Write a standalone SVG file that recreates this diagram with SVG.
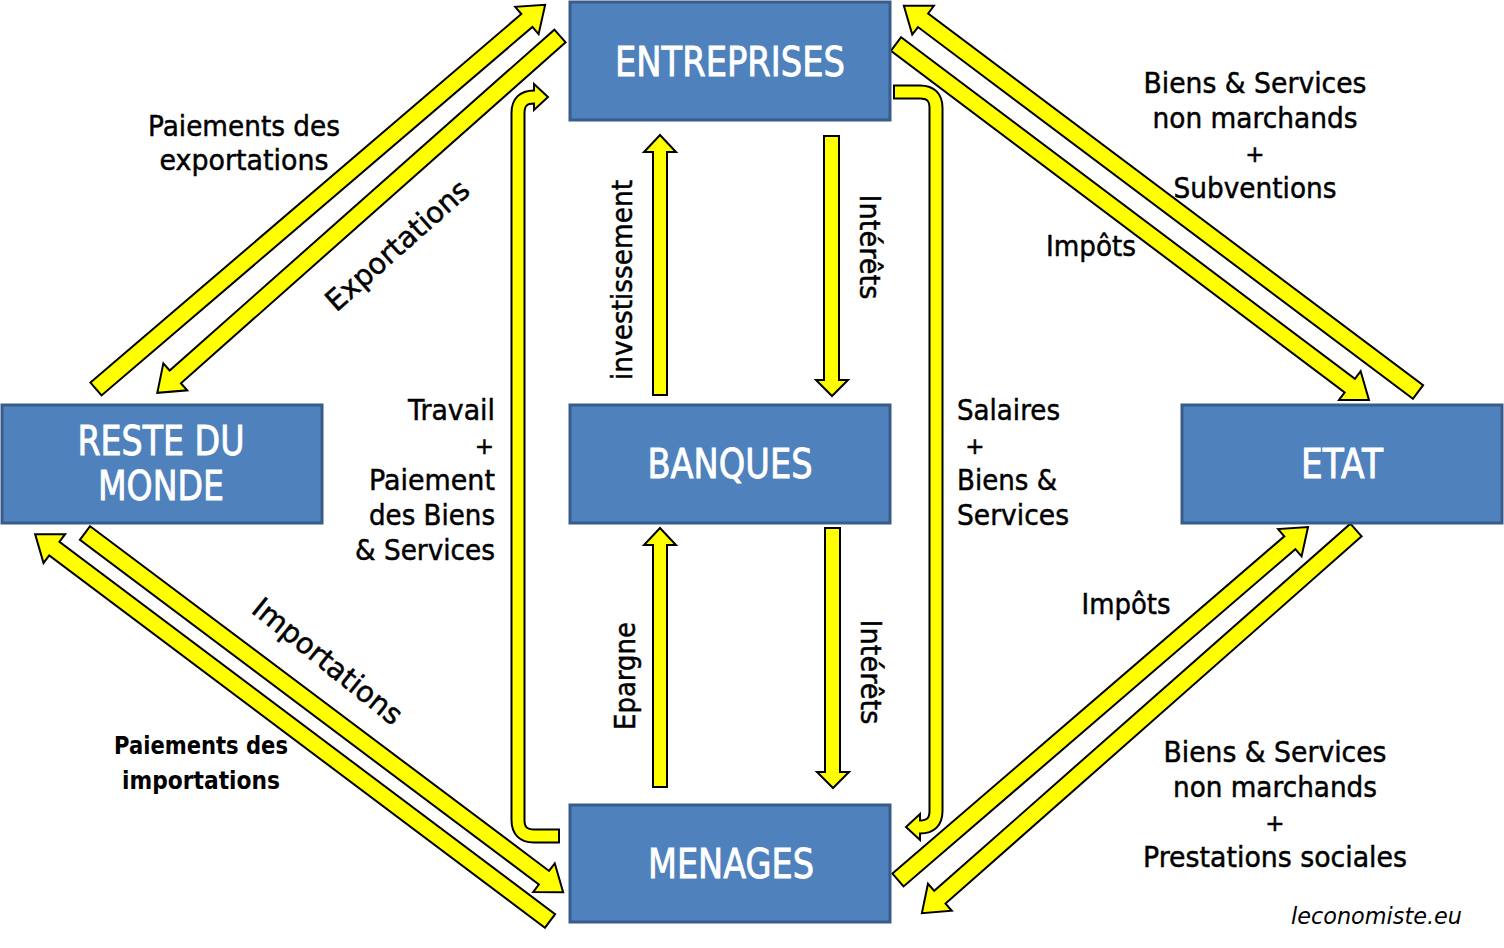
<svg xmlns="http://www.w3.org/2000/svg" width="1504" height="948" viewBox="0 0 1504 948">
<style>
.box{fill:#4F81BD;stroke:#385D8A;stroke-width:3}
.bt{font-family:"DejaVu Sans",sans-serif;font-size:40px;fill:#fff;stroke:#fff;stroke-width:0.9;text-anchor:middle}
.arr{fill:#FFFF00;stroke:#000;stroke-width:2;stroke-linejoin:miter}
.lb{font-family:"DejaVu Sans",sans-serif;font-size:29px;fill:#000;stroke:#000;stroke-width:0.5}
.pl{font-family:"DejaVu Sans",sans-serif;font-size:23px;fill:#000;stroke:#000;stroke-width:0.5}
.lbb{font-family:"DejaVu Sans",sans-serif;font-size:25px;font-weight:bold;fill:#000;text-anchor:middle}
.c{text-anchor:middle}
.r{text-anchor:end}
</style>
<rect width="1504" height="948" fill="#fff"/>
<g id="connectors">
  <polygon class="arr" transform="translate(96,389) rotate(-40.54)" points="0,-8.5 567,-8.5 567,-18 591,0 567,18 567,8.5 0,8.5"/>
  <polygon class="arr" transform="translate(560,36) rotate(138.46)" points="0,-8.5 514,-8.5 514,-18 538,0 514,18 514,8.5 0,8.5"/>
  <polygon class="arr" transform="translate(896,44) rotate(36.97)" points="0,-8.5 568,-8.5 568,-18 592,0 568,18 568,8.5 0,8.5"/>
  <polygon class="arr" transform="translate(1418,392) rotate(-143.09)" points="0,-8.5 619,-8.5 619,-18 643,0 619,18 619,8.5 0,8.5"/>
  <polygon class="arr" transform="translate(898,880) rotate(-40.72)" points="0,-8.5 517,-8.5 517,-18 541,0 517,18 517,8.5 0,8.5"/>
  <polygon class="arr" transform="translate(1356,530) rotate(138.57)" points="0,-8.5 555,-8.5 555,-18 579,0 555,18 555,8.5 0,8.5"/>
  <polygon class="arr" transform="translate(85,533) rotate(36.91)" points="0,-8.5 574,-8.5 574,-18 598,0 574,18 574,8.5 0,8.5"/>
  <polygon class="arr" transform="translate(550,921) rotate(-143.08)" points="0,-8.5 620,-8.5 620,-18 644,0 620,18 620,8.5 0,8.5"/>
  <polygon class="arr" points="653,395 653,152 644,152 660,135 676,152 667,152 667,395"/>
  <polygon class="arr" points="824,136 824,380 816,380 832,396 848,380 839,380 839,136"/>
  <polygon class="arr" points="653,787 653,545 644,545 660,528 676,545 667,545 667,787"/>
  <polygon class="arr" points="825,528 825,772 817,772 833,788 849,772 840,772 840,528"/>
  <path d="M 560,836 H 534 Q 518,836 518,820 V 113 Q 518,97 534,97 H 537" fill="none" stroke="#000" stroke-width="15"/>
  <polygon class="arr" points="534,84 548,97 534,110"/>
  <path d="M 558,836 H 534 Q 518,836 518,820 V 113 Q 518,97 534,97 H 536" fill="none" stroke="#FFFF00" stroke-width="11"/>
  <path d="M 893,92 H 920 Q 936,92 936,108 V 811 Q 936,827 920,827 H 917" fill="none" stroke="#000" stroke-width="15"/>
  <polygon class="arr" points="920,814 906,827 920,840"/>
  <path d="M 895,92 H 920 Q 936,92 936,108 V 811 Q 936,827 920,827 H 918" fill="none" stroke="#FFFF00" stroke-width="11"/>
</g>
<g id="entreprises">
  <rect class="box" x="570" y="2" width="320" height="118"/>
  <text class="bt" x="730" y="76" textLength="230" lengthAdjust="spacingAndGlyphs">ENTREPRISES</text>
</g>
<g id="banques">
  <rect class="box" x="570" y="405" width="320" height="118"/>
  <text class="bt" x="730" y="478" textLength="165" lengthAdjust="spacingAndGlyphs">BANQUES</text>
</g>
<g id="menages">
  <rect class="box" x="570" y="805" width="320" height="117"/>
  <text class="bt" x="731" y="878" textLength="166" lengthAdjust="spacingAndGlyphs">MENAGES</text>
</g>
<g id="reste-du-monde">
  <rect class="box" x="2" y="405" width="320" height="118"/>
  <text class="bt" x="161" y="455" textLength="167" lengthAdjust="spacingAndGlyphs">RESTE DU</text>
  <text class="bt" x="161" y="500" textLength="126" lengthAdjust="spacingAndGlyphs">MONDE</text>
</g>
<g id="etat">
  <rect class="box" x="1182" y="405" width="320" height="118"/>
  <text class="bt" x="1342" y="478" textLength="82" lengthAdjust="spacingAndGlyphs">ETAT</text>
</g>
<g id="labels">
  <text class="lb c" x="244" y="136" textLength="192" lengthAdjust="spacingAndGlyphs">Paiements des</text>
  <text class="lb c" x="244" y="170" textLength="169" lengthAdjust="spacingAndGlyphs">exportations</text>
  <text class="lb c" transform="translate(398,246) rotate(-41.5)" x="0" y="9" textLength="181" lengthAdjust="spacingAndGlyphs">Exportations</text>
  <text class="lb r" x="495" y="420" textLength="87" lengthAdjust="spacingAndGlyphs">Travail</text>
  <text class="pl r" x="494" y="454">+</text>
  <text class="lb r" x="495" y="490" textLength="126" lengthAdjust="spacingAndGlyphs">Paiement</text>
  <text class="lb r" x="495" y="525" textLength="126" lengthAdjust="spacingAndGlyphs">des Biens</text>
  <text class="lb r" x="495" y="560" textLength="140" lengthAdjust="spacingAndGlyphs">&amp; Services</text>
  <text class="lb c" transform="translate(622,280) rotate(-90)" x="0" y="10" textLength="200" lengthAdjust="spacingAndGlyphs">investissement</text>
  <text class="lb c" transform="translate(870,247) rotate(90)" x="0" y="10" textLength="105" lengthAdjust="spacingAndGlyphs">Intérêts</text>
  <text class="lb c" transform="translate(625,676) rotate(-90)" x="0" y="10" textLength="108" lengthAdjust="spacingAndGlyphs">Epargne</text>
  <text class="lb c" transform="translate(871,672) rotate(90)" x="0" y="10" textLength="105" lengthAdjust="spacingAndGlyphs">Intérêts</text>
  <text class="lb" x="957" y="420" textLength="103" lengthAdjust="spacingAndGlyphs">Salaires</text>
  <text class="pl c" x="975" y="454">+</text>
  <text class="lb" x="957" y="490" textLength="100" lengthAdjust="spacingAndGlyphs">Biens &amp;</text>
  <text class="lb" x="957" y="525" textLength="112" lengthAdjust="spacingAndGlyphs">Services</text>
  <text class="lb c" x="1255" y="93" textLength="223" lengthAdjust="spacingAndGlyphs">Biens &amp; Services</text>
  <text class="lb c" x="1255" y="128" textLength="205" lengthAdjust="spacingAndGlyphs">non marchands</text>
  <text class="pl c" x="1255" y="162">+</text>
  <text class="lb c" x="1255" y="198" textLength="163" lengthAdjust="spacingAndGlyphs">Subventions</text>
  <text class="lb c" x="1091" y="256" textLength="90" lengthAdjust="spacingAndGlyphs">Impôts</text>
  <text class="lb c" x="1126" y="614" textLength="89" lengthAdjust="spacingAndGlyphs">Impôts</text>
  <text class="lb c" x="1275" y="762" textLength="223" lengthAdjust="spacingAndGlyphs">Biens &amp; Services</text>
  <text class="lb c" x="1275" y="797" textLength="204" lengthAdjust="spacingAndGlyphs">non marchands</text>
  <text class="pl c" x="1275" y="831">+</text>
  <text class="lb c" x="1275" y="867" textLength="264" lengthAdjust="spacingAndGlyphs">Prestations sociales</text>
  <text class="lbb" x="201" y="754" textLength="174" lengthAdjust="spacingAndGlyphs">Paiements des</text>
  <text class="lbb" x="201" y="789" textLength="158" lengthAdjust="spacingAndGlyphs">importations</text>
  <text class="lb c" transform="translate(327,662) rotate(38.8)" x="0" y="9" textLength="183" lengthAdjust="spacingAndGlyphs">Importations</text>
  <text x="1291" y="924" font-family="DejaVu Sans, sans-serif" font-size="23" font-style="italic" fill="#000" textLength="171" lengthAdjust="spacingAndGlyphs">leconomiste.eu</text>
</g>
</svg>
